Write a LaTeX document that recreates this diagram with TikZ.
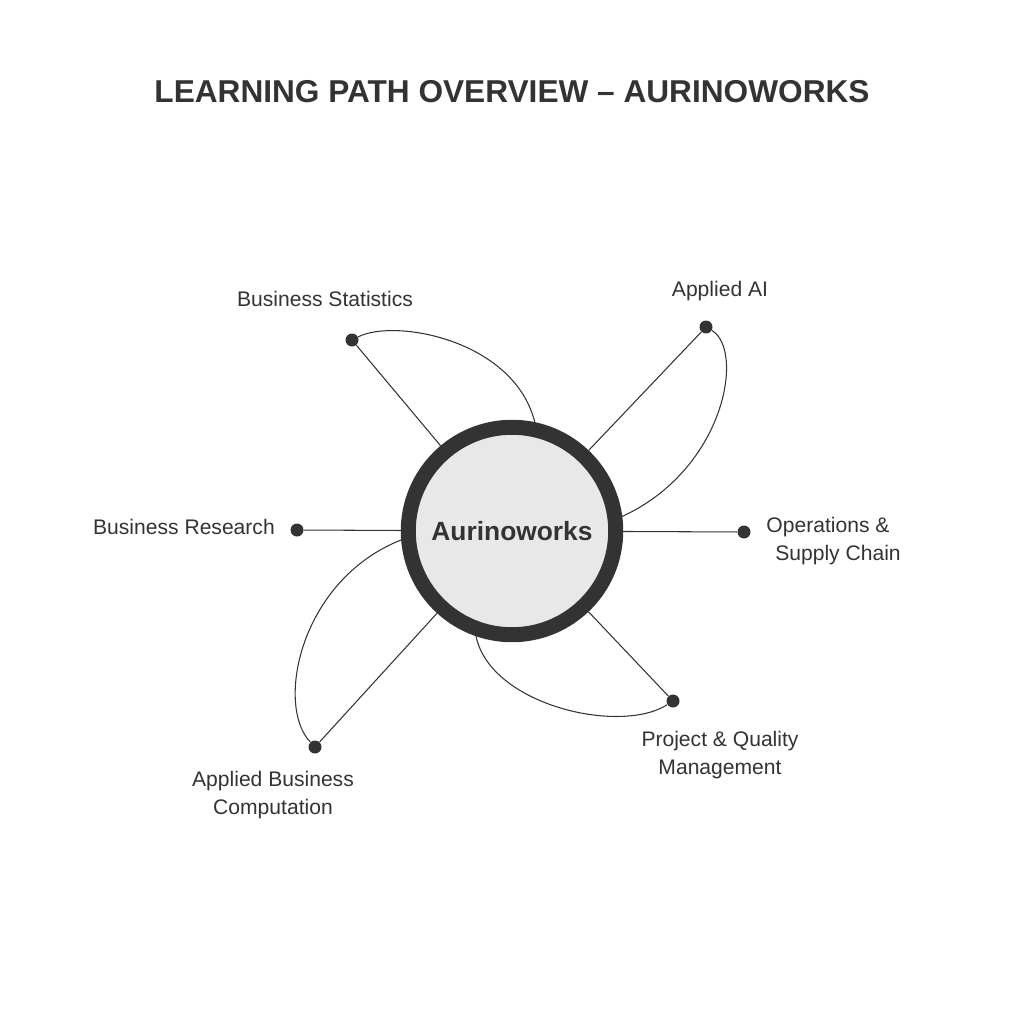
\documentclass[tikz,border=0pt]{standalone}
\usepackage{fontspec}
\setmainfont{Liberation Sans}
\usetikzlibrary{positioning}
\definecolor{ink}{HTML}{333333}
\definecolor{hub}{HTML}{E8E8E8}
\tikzset{
  dot/.style={circle,fill=ink,inner sep=0pt,minimum size=0.26cm},
  lab/.style={text=ink,font=\fontsize{12}{16}\selectfont,align=center},
  link/.style={draw=ink,line width=0.6pt}
}
\begin{document}
\begin{tikzpicture}[x=0.02cm,y=-0.02cm]
\useasboundingbox (0,0) rectangle (1024,1024);
\node[text=ink,font=\bfseries\fontsize{18}{22}\selectfont] (title) at (512,92) {LEARNING PATH OVERVIEW -- AURINOWORKS};
% hub
\node[circle,fill=hub,draw=ink,line width=0.3cm,minimum size=4.15cm] (hub) at (512,531) {};
\node[text=ink,font=\bfseries\fontsize{15}{18}\selectfont] (hubtxt) at (512,531) {Aurinoworks};
% end points
\node[dot] (stat) at (352,340) {};
\node[dot] (ai) at (706,327) {};
\node[dot] (ops) at (744,532) {};
\node[dot] (pq) at (673,701) {};
\node[dot] (comp) at (315,747) {};
\node[dot] (res) at (297,530) {};
% spokes
\foreach \n in {stat,ai,ops,pq,comp,res}
  \draw[link] (\n) -- (hub);
% arcs
\coordinate (statend) at (535,423);
\coordinate (aiend) at (621,517);
\coordinate (pqend) at (476,636);
\coordinate (compend) at (401,540);
\draw[link] (stat) .. controls (395,318) and (515,340) .. (statend);
\draw[link] (ai) .. controls (745,350) and (725,470) .. (aiend);
\draw[link] (pq) .. controls (620,735) and (490,705) .. (pqend);
\draw[link] (comp) .. controls (275,705) and (300,580) .. (compend);
% labels
\node[lab] (statlab) at (325,299) {Business Statistics};
\node[lab] (ailab) at (720,291) {Applied AI};
\node[lab,anchor=east] (reslab) at (281,527) {Business Research};
\node[lab] (opslab) at (828,541) {Operations \&\\\hspace*{0.4cm}Supply Chain};
\node[lab] (pqlab) at (720,755) {Project \& Quality\\Management};
\node[lab] (complab) at (273,795) {Applied Business\\Computation};
\end{tikzpicture}
\end{document}
